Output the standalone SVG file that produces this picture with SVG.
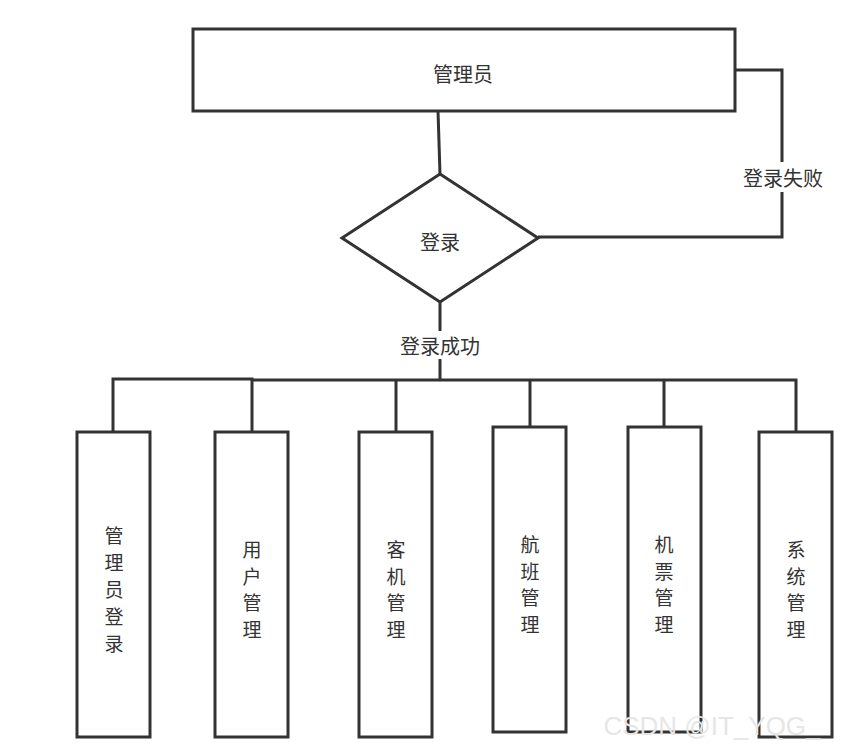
<svg xmlns="http://www.w3.org/2000/svg" width="866" height="755" viewBox="0 0 866 755">
<style>
.box{fill:#fff;stroke:#333;stroke-width:3}
.ln{fill:none;stroke:#333;stroke-width:3}
text{font-family:"Noto Sans CJK SC","Liberation Sans",sans-serif;font-size:20px;fill:#333;text-anchor:middle;dominant-baseline:central}
.c{font-size:19px}
.wm{fill:#e6e6e6;font-family:"Liberation Sans",sans-serif;font-size:26px}
</style>
<rect width="866" height="755" fill="#fff"/>
<g id="connectors">
<polyline class="ln" points="438,111 440,174"/>
<polyline class="ln" points="735,70 782,70 782,237 538,237"/>
<polyline class="ln" points="440,302 440,380"/>
<polyline class="ln" points="113,432 113,379 252,379 252,432"/>
<polyline class="ln" points="252,380 796,380 796,432"/>
<line class="ln" x1="396" y1="380" x2="396" y2="432"/>
<line class="ln" x1="530" y1="380" x2="530" y2="427"/>
<line class="ln" x1="664" y1="380" x2="664" y2="427"/>
<rect x="738" y="162" width="90" height="30" fill="#fff"/>
<text x="783" y="177">登录失败</text>
<rect x="394" y="331" width="92" height="28" fill="#fff"/>
<text x="440" y="345">登录成功</text>
</g>
<g id="admin">
<rect class="box" x="193" y="29" width="542" height="82"/>
<text x="463" y="73">管理员</text>
</g>
<g id="login">
<polygon class="box" points="440,174 538,238 440,302 342,238"/>
<text x="440" y="241">登录</text>
</g>
<g id="n1">
<rect class="box" x="77" y="432" width="73" height="305"/>
<text class="c" x="114" y="534">管</text><text class="c" x="114" y="561">理</text><text class="c" x="114" y="588">员</text><text class="c" x="114" y="615">登</text><text class="c" x="114" y="642">录</text>
</g>
<g id="n2">
<rect class="box" x="215" y="432" width="73" height="305"/>
<text class="c" x="252" y="548">用</text><text class="c" x="252" y="575">户</text><text class="c" x="252" y="601">管</text><text class="c" x="252" y="628">理</text>
</g>
<g id="n3">
<rect class="box" x="359" y="432" width="73" height="305"/>
<text class="c" x="396" y="548">客</text><text class="c" x="396" y="575">机</text><text class="c" x="396" y="601">管</text><text class="c" x="396" y="628">理</text>
</g>
<g id="n4">
<rect class="box" x="493" y="427" width="73" height="305"/>
<text class="c" x="530" y="543">航</text><text class="c" x="530" y="570">班</text><text class="c" x="530" y="596">管</text><text class="c" x="530" y="623">理</text>
</g>
<g id="n5">
<rect class="box" x="628" y="427" width="73" height="305"/>
<text class="c" x="664" y="543">机</text><text class="c" x="664" y="570">票</text><text class="c" x="664" y="596">管</text><text class="c" x="664" y="623">理</text>
</g>
<g id="n6">
<rect class="box" x="759" y="432" width="73" height="305"/>
<text class="c" x="796" y="548">系</text><text class="c" x="796" y="575">统</text><text class="c" x="796" y="601">管</text><text class="c" x="796" y="628">理</text>
</g>
<text class="wm" x="712" y="726">CSDN @IT_YQG_</text>
</svg>
